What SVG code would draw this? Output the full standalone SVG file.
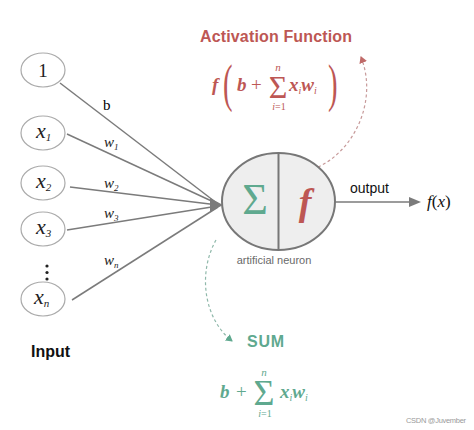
<svg xmlns="http://www.w3.org/2000/svg" width="474" height="430" viewBox="0 0 474 430">
<defs>
<style>
.in{fill:#fff;stroke:#aaa;stroke-width:1.2}
.iv{font-family:"Liberation Serif",serif;font-style:italic;font-size:22px;fill:#222}
.sub{font-family:"Liberation Serif",serif;font-style:italic;font-size:11px;fill:#222}
.wl{font-family:"Liberation Serif",serif;font-style:italic;font-size:15px;fill:#222}
.ws{font-family:"Liberation Serif",serif;font-style:italic;font-size:9px;fill:#222}
.con{stroke:#7b7b7b;stroke-width:1.5;fill:none}
.lbl{font-family:"Liberation Sans",Arial,sans-serif;font-weight:bold;font-size:16px}
.mb{font-family:"Liberation Serif",serif;font-weight:bold;font-style:italic;font-size:19px}
.mr{font-family:"Liberation Serif",serif;font-size:19px}
.mi{font-family:"Liberation Serif",serif;font-style:italic;font-size:11px}
.red{fill:#bd5754}
.grn{fill:#5fa98f}
</style>
<marker id="ahr" markerWidth="8" markerHeight="8" refX="6" refY="4" orient="auto" markerUnits="userSpaceOnUse"><path d="M0,0 L7,4 L0,8 z" fill="#c06a68"/></marker>
<marker id="ahg" markerWidth="8" markerHeight="8" refX="6" refY="4" orient="auto" markerUnits="userSpaceOnUse"><path d="M0,0 L7,4 L0,8 z" fill="#5fa98f"/></marker>
</defs>
<rect width="474" height="430" fill="#fff"/>

<g id="connectors">
<line class="con" x1="60" y1="83" x2="218" y2="204"/>
<line class="con" x1="67" y1="134" x2="218" y2="204"/>
<line class="con" x1="70" y1="187" x2="218" y2="205"/>
<line class="con" x1="67" y1="230" x2="218" y2="206"/>
<line class="con" x1="72" y1="300" x2="218" y2="207"/>
<polygon points="223,205 210,198 210,212" fill="#7b7b7b"/>
<line class="con" x1="335" y1="202" x2="412" y2="202"/>
<polygon points="421,202 409,197 409,207" fill="#7b7b7b"/>
<path d="M318,167 C355,150 378,100 361,57" fill="none" stroke="#c79a9a" stroke-width="1.2" stroke-dasharray="3,2.5" marker-end="url(#ahr)"/>
<path d="M216,240 C198,272 203,318 232,341" fill="none" stroke="#8fb8aa" stroke-width="1.2" stroke-dasharray="3,2.5" marker-end="url(#ahg)"/>
<text class="mr" x="103" y="110" style="font-size:15px">b</text>
<text class="wl" x="104" y="147">w<tspan class="ws" dy="3">1</tspan></text>
<text class="wl" x="104" y="188">w<tspan class="ws" dy="3">2</tspan></text>
<text class="wl" x="104" y="218">w<tspan class="ws" dy="3">3</tspan></text>
<text class="wl" x="104" y="265">w<tspan class="ws" dy="3">n</tspan></text>
</g>

<g id="in-1">
<ellipse class="in" cx="43" cy="70" rx="22" ry="17"/>
<text x="43" y="77" text-anchor="middle" style="font-family:'Liberation Serif',serif;font-size:19px;fill:#222">1</text>
</g>
<g id="in-x1">
<ellipse class="in" cx="43" cy="133" rx="22" ry="17"/>
<text class="iv" x="36" y="138">x<tspan class="sub" dy="3">1</tspan></text>
</g>
<g id="in-x2">
<ellipse class="in" cx="43" cy="183" rx="22" ry="17"/>
<text class="iv" x="36" y="188">x<tspan class="sub" dy="3">2</tspan></text>
</g>
<g id="in-x3">
<ellipse class="in" cx="43" cy="229" rx="22" ry="17"/>
<text class="iv" x="36" y="234">x<tspan class="sub" dy="3">3</tspan></text>
</g>
<g id="dots">
<circle cx="47" cy="266" r="1.6" fill="#222"/>
<circle cx="47" cy="272.5" r="1.6" fill="#222"/>
<circle cx="47" cy="279" r="1.6" fill="#222"/>
</g>
<g id="in-xn">
<ellipse class="in" cx="43" cy="299" rx="22" ry="17"/>
<text class="iv" x="34" y="304">x<tspan class="sub" dy="3">n</tspan></text>
</g>
<g id="input-label">
<text class="lbl" x="31" y="357" fill="#111">Input</text>
</g>

<g id="neuron">
<ellipse cx="278.5" cy="201.5" rx="56.5" ry="48.5" fill="#eeeeee" stroke="#777" stroke-width="2"/>
<line x1="278.5" y1="153" x2="278.5" y2="250" stroke="#777" stroke-width="2"/>
<text x="255" y="214" text-anchor="middle" class="grn" style="font-family:'Liberation Serif',serif;font-size:44px">Σ</text>
<text x="305" y="215" text-anchor="middle" class="red" style="font-family:'Liberation Serif',serif;font-weight:bold;font-style:italic;font-size:38px">f</text>
<text x="274" y="264" text-anchor="middle" style="font-family:'Liberation Sans',Arial,sans-serif;font-size:11px;fill:#6a6a6a">artificial neuron</text>
</g>

<g id="output">
<text x="350" y="193" style="font-family:'Liberation Sans',Arial,sans-serif;font-size:14px;fill:#111">output</text>
<text x="427" y="207" style="font-family:'Liberation Serif',serif;font-style:italic;font-size:17px;fill:#111">f<tspan font-style="normal">(</tspan>x<tspan font-style="normal">)</tspan></text>
</g>

<g id="activation">
<text class="lbl red" x="200" y="42" textLength="152">Activation Function</text>
<text class="mb red" x="212" y="91">f</text>
<text class="mr red" transform="translate(223,101) scale(0.55,1)" style="font-size:52px">(</text>
<text class="mb red" x="237" y="91">b</text>
<text class="mr red" x="251" y="91">+</text>
<text class="mr red" x="278" y="98" text-anchor="middle" style="font-size:32px">Σ</text>
<text class="mi red" x="278" y="71" text-anchor="middle">n</text>
<text class="mi red" x="279" y="110" text-anchor="middle" style="font-size:10px">i<tspan font-style="normal">=1</tspan></text>
<text class="mb red" x="289" y="91">x<tspan class="mi" dy="3" style="font-size:10px;font-weight:normal">i</tspan><tspan dy="-3">w</tspan><tspan class="mi" dy="3" style="font-size:10px;font-weight:normal">i</tspan></text>
<text class="mr red" transform="translate(328,101) scale(0.55,1)" style="font-size:52px">)</text>
</g>

<g id="sum">
<text class="lbl grn" x="247" y="347" textLength="37">SUM</text>
<text class="mb grn" x="220" y="398">b</text>
<text class="mr grn" x="236" y="398">+</text>
<text class="mr grn" x="264" y="405" text-anchor="middle" style="font-size:36px">Σ</text>
<text class="mi grn" x="264" y="376" text-anchor="middle">n</text>
<text class="mi grn" x="265" y="417" text-anchor="middle" style="font-size:10px">i<tspan font-style="normal">=1</tspan></text>
<text class="mb grn" x="280" y="398">x<tspan class="mi" dy="3" style="font-size:10px;font-weight:normal">i</tspan><tspan dy="-3">w</tspan><tspan class="mi" dy="3" style="font-size:10px;font-weight:normal">i</tspan></text>
</g>

<g id="watermark">
<text x="406" y="423" textLength="60" style="font-family:'Liberation Sans',Arial,sans-serif;font-size:7.5px;fill:#9a9a9a">CSDN @Juvember</text>
</g>
</svg>
